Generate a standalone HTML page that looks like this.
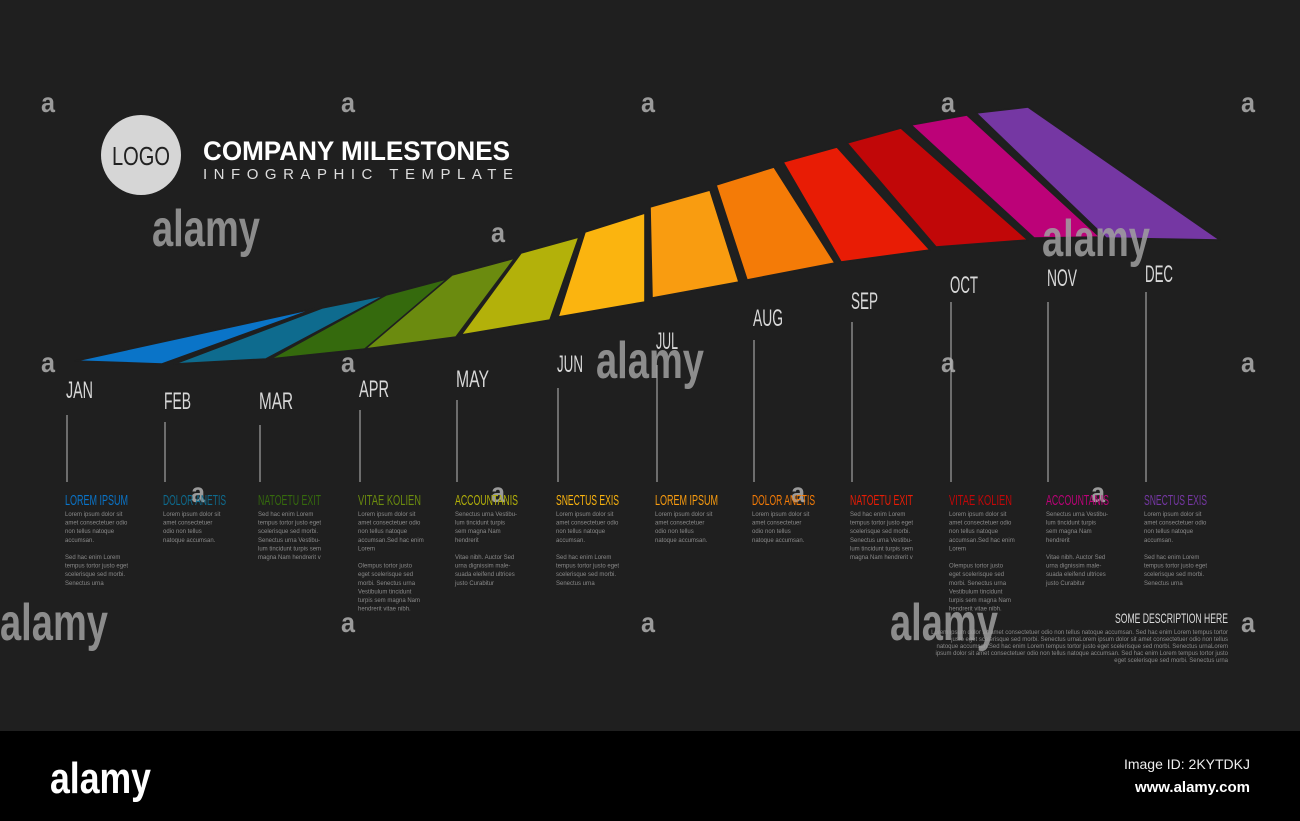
<!DOCTYPE html>
<html><head><meta charset="utf-8"><style>
html,body{margin:0;padding:0;background:#1f1f1f;}
svg{display:block;}
text{font-family:"Liberation Sans",sans-serif;}
</style></head><body>
<svg width="1300" height="821" viewBox="0 0 1300 821">
<rect x="0" y="0" width="1300" height="731" fill="#1f1f1f"/>
<g id="wm"></g>
<circle cx="141" cy="155" r="40" fill="#d6d6d6"/>
<text x="141" y="165" text-anchor="middle" font-size="26" fill="#222" textLength="58" lengthAdjust="spacingAndGlyphs">LOGO</text>
<text x="203" y="160" font-size="27" font-weight="bold" fill="#fff" textLength="307" lengthAdjust="spacingAndGlyphs">COMPANY MILESTONES</text>
<text x="203" y="179" font-size="15" fill="#ddd" textLength="310" lengthAdjust="spacing">INFOGRAPHIC TEMPLATE</text>
<g id="ribbon"></g>
<g id="cols"></g>
<text x="1228" y="623" text-anchor="end" font-size="14" fill="#ddd" textLength="113" lengthAdjust="spacingAndGlyphs">SOME DESCRIPTION HERE</text>
<g font-size="6" fill="#8a8a8a" text-anchor="end">
<text x="1228" y="634">Lorem ipsum dolor sit amet consectetuer odio non tellus natoque accumsan. Sed hac enim Lorem tempus tortor</text>
<text x="1228" y="641">justo eget scelerisque sed morbi. Senectus urnaLorem ipsum dolor sit amet consectetuer odio non tellus</text>
<text x="1228" y="648">natoque accumsan.Sed hac enim Lorem tempus tortor justo eget scelerisque sed morbi. Senectus urnaLorem</text>
<text x="1228" y="655">ipsum dolor sit amet consectetuer odio non tellus natoque accumsan. Sed hac enim Lorem tempus tortor justo</text>
<text x="1228" y="662">eget scelerisque sed morbi. Senectus urna</text>
</g>
<rect x="0" y="731" width="1300" height="90" fill="#000"/>
<text x="50" y="793" font-size="44" font-weight="bold" fill="#fff" textLength="101" lengthAdjust="spacingAndGlyphs">alamy</text>
<text x="1250" y="769" text-anchor="end" font-size="14" fill="#eee">Image ID: 2KYTDKJ</text>
<text x="1250" y="792" text-anchor="end" font-size="15" font-weight="bold" fill="#fff">www.alamy.com</text>
</svg>
<script>
const NS="http://www.w3.org/2000/svg";
const months=["JAN","FEB","MAR","APR","MAY","JUN","JUL","AUG","SEP","OCT","NOV","DEC"];
const colors=["#0a74c8","#0e6b8e","#356a0d","#6b8b0f","#b3b10a","#fbb40f","#f99c10","#f47b07","#e81c05","#c10708","#bc0278","#7537a3"];
const headings=["LOREM IPSUM","DOLOR ANETIS","NATOETU EXIT","VITAE KOLIEN","ACCOUNTANIS","SNECTUS EXIS","LOREM IPSUM","DOLOR ANETIS","NATOETU EXIT","VITAE KOLIEN","ACCOUNTANIS","SNECTUS EXIS"];
const shapes=[
"75,361 317,308 162,364",
"174,364 322,308 386,295 266,359",
"270,359 386,295 450,278 365,349",
"365,349 452,275 515,258 456,337",
"461,335 521,253 579,237 550,320",
"558,317 585,232 645,213 645,302",
"652,298 650,207 710,190 739,282",
"747,280 716,185 774,167 835,263",
"841,262 783,162 837,147 930,250",
"936,247 847,143 901,128 1028,240",
"1034,238 911,125 967,115 1100,237",
"1106,238 976,113 1028,107 1220,240"];
const labX=[66,164,259,359,456,557,656,753,851,950,1047,1145];
const labY=[398,409,409,397,387,372,349,326,309,293,286,282];
const labW=[27,27,34,30,33,26,22,30,27,28,30,28];
const lineTop=[415,422,425,410,400,388,365,340,322,302,302,292];
const A=["Lorem ipsum dolor sit","amet consectetuer odio","non tellus natoque","accumsan.","","Sed hac enim Lorem","tempus tortor justo eget","scelerisque sed morbi.","Senectus urna"];
const B=["Lorem ipsum dolor sit","amet consectetuer","odio non tellus","natoque accumsan."];
const C=["Sed hac enim Lorem","tempus tortor justo eget","scelerisque sed morbi.","Senectus urna Vestibu-","lum tincidunt turpis sem","magna Nam hendrerit v"];
const D=["Lorem ipsum dolor sit","amet consectetuer odio","non tellus natoque","accumsan.Sed hac enim","Lorem","","Olempus tortor justo","eget scelerisque sed","morbi. Senectus urna","Vestibulum tincidunt","turpis sem magna Nam","hendrerit vitae nibh."];
const E=["Senectus urna Vestibu-","lum tincidunt turpis","sem magna Nam","hendrerit","","Vitae nibh. Auctor Sed","urna dignissim male-","suada eleifend ultrices","justo Curabitur"];
const bodies=[A,B,C,D,E,A,B,B,C,D,E,A];
const rib=document.getElementById('ribbon');
shapes.forEach((p,i)=>{
 const el=document.createElementNS(NS,'polygon');
 el.setAttribute('points',p);el.setAttribute('fill',colors[i]);el.setAttribute('stroke','#1f1f1f');el.setAttribute('stroke-width','1.6');el.setAttribute('stroke-linejoin','round');
 
 
 rib.appendChild(el);
});
const cols=document.getElementById('cols');
months.forEach((m,i)=>{
 const x=labX[i];
 const t=document.createElementNS(NS,'text');
 t.setAttribute('x',x);t.setAttribute('y',labY[i]);t.setAttribute('font-size','24');t.setAttribute('fill','#d8d8d8');
 t.setAttribute('textLength',labW[i]);t.setAttribute('lengthAdjust','spacingAndGlyphs');t.textContent=m;
 
 
 cols.appendChild(t);
 const l=document.createElementNS(NS,'line');
 l.setAttribute('x1',x+1);l.setAttribute('x2',x+1);l.setAttribute('y1',lineTop[i]);l.setAttribute('y2',482);l.setAttribute('stroke','#bbb');l.setAttribute('stroke-width','1');
 
 
 cols.appendChild(l);
 const h=document.createElementNS(NS,'text');
 h.setAttribute('x',x-1);h.setAttribute('y',505);h.setAttribute('font-size','15');h.setAttribute('fill',colors[i]);
 h.setAttribute('textLength',63);h.setAttribute('lengthAdjust','spacingAndGlyphs');h.textContent=headings[i];
 
 
 cols.appendChild(h);
 bodies[i].forEach((ln,j)=>{
  if(!ln) return;
  const b=document.createElementNS(NS,'text');
  b.setAttribute('x',x-1);b.setAttribute('y',516+j*8.6);b.setAttribute('font-size','6');b.setAttribute('fill','#8a8a8a');b.textContent=ln;
  
  
  cols.appendChild(b);
 });
});
const wm=document.getElementById('wm');
const wmA=[[48,112],[348,112],[648,112],[948,112],[1248,112],[498,242],[798,242],[48,372],[348,372],[948,372],[1248,372],[198,502],[498,502],[798,502],[1098,502],[348,632],[648,632],[1248,632]];
wmA.forEach(p=>{
 const t=document.createElementNS(NS,'text');
 t.setAttribute('x',p[0]);t.setAttribute('y',p[1]);t.setAttribute('font-size','28');t.setAttribute('font-weight','bold');t.setAttribute('fill','#9a9a9a');t.setAttribute('text-anchor','middle');t.setAttribute('textLength','14');t.setAttribute('lengthAdjust','spacingAndGlyphs');t.textContent='a';
 
 
 wm.appendChild(t);
});
const wmB=[[152,246],[596,378],[1042,256],[0,640],[890,640]];
wmB.forEach(p=>{
 const t=document.createElementNS(NS,'text');
 t.setAttribute('x',p[0]);t.setAttribute('y',p[1]);t.setAttribute('font-size','52');t.setAttribute('font-weight','bold');t.setAttribute('fill','#a0a0a0');t.setAttribute('fill-opacity','0.85');t.setAttribute('textLength','108');t.setAttribute('lengthAdjust','spacingAndGlyphs');t.textContent='alamy';
 
 
 document.querySelector('svg').appendChild(t);
});
</script>
</body></html>
